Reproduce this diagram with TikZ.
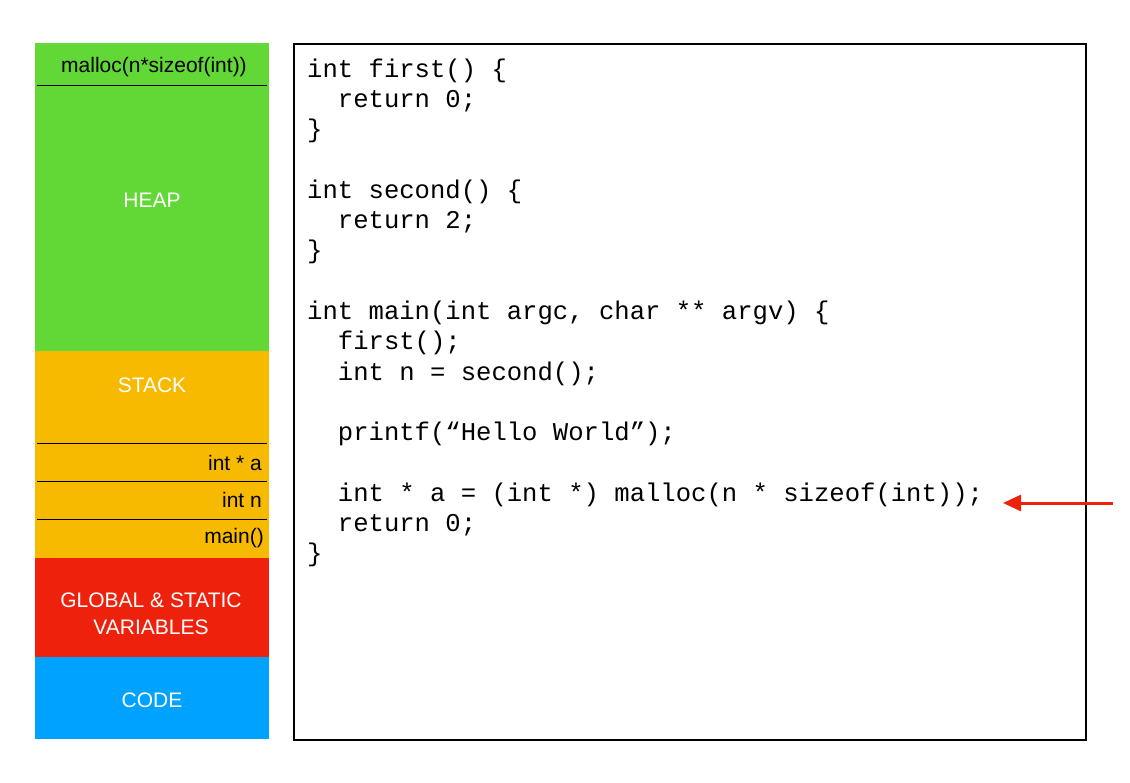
\documentclass[tikz,border=0pt]{standalone}
\usepackage{fontspec}
\setmainfont{Liberation Sans}
\newfontfamily\codefont{Liberation Mono}
\usetikzlibrary{arrows.meta}
\definecolor{heapc}{HTML}{61D836}
\definecolor{stackc}{HTML}{F8BA00}
\definecolor{globc}{HTML}{EE220C}
\definecolor{codec}{HTML}{00A2FF}
\tikzset{
 seg/.style={draw=none,minimum width=234pt,inner sep=0pt,anchor=north west},
 wlabel/.style={text=white,font=\fontsize{21}{26}\selectfont,align=center},
 blabel/.style={text=black,font=\fontsize{21}{26}\selectfont,anchor=east,inner sep=0pt},
 sepline/.style={black,line width=0.8pt},
 codeline/.style={anchor=west,inner sep=0pt,font=\codefont\fontsize{25.6}{30}\selectfont,text height=14pt,text depth=4pt}
}
\begin{document}
\begin{tikzpicture}[x=1pt,y=-1pt]
\useasboundingbox (0,0) rectangle (1130,782);
\node[seg,fill=heapc,minimum height=308pt] (heap) at (35,43) {};
\node[seg,fill=stackc,minimum height=207pt] (stack) at (35,351) {};
\node[seg,fill=globc,minimum height=99pt] (glob) at (35,558) {};
\node[seg,fill=codec,minimum height=82pt] (code) at (35,657) {};
\node[text=black,font=\fontsize{21}{26}\selectfont] (mal) at (154,67) {malloc(n*sizeof(int))};
\draw[sepline] (37,85) coordinate (l1a) -- (267,85) coordinate (l1b);
\node[wlabel] (heapt) at (152,200) {HEAP};
\node[wlabel] (stackt) at (152,385) {STACK};
\draw[sepline] (37,443) coordinate (l2a) -- (267,443) coordinate (l2b);
\node[blabel] (ia) at (262,463) {int * a};
\draw[sepline] (37,481) coordinate (l3a) -- (267,481) coordinate (l3b);
\node[blabel] (in) at (262,500) {int n};
\draw[sepline] (37,519) coordinate (l4a) -- (267,519) coordinate (l4b);
\node[blabel] (mn) at (264,538) {main()};
\node[wlabel,font=\fontsize{21}{27}\selectfont] (globt) at (151,614) {GLOBAL \& STATIC\\VARIABLES};
\node[wlabel] (codet) at (152,700) {CODE};
\node[draw,line width=1.5pt,minimum width=792pt,minimum height=696pt,anchor=north west,inner sep=0pt] (box) at (293,43) {};
\foreach \i/\t in {0/{int first() \{},1/{\ \ return 0;},2/{\}},4/{int second() \{},5/{\ \ return 2;},6/{\}},8/{int main(int argc, char ** argv) \{},9/{\ \ first();},10/{\ \ int n = second();},12/{\ \ printf(“Hello World”);},14/{\ \ int * a = (int *) malloc(n * sizeof(int));},15/{\ \ return 0;},16/{\}}}
  \node[codeline] (c\i) at (307,72+30.3*\i) {\t};
\coordinate (arrS) at (1113,503);
\coordinate (arrE) at (1003,503);
\draw[globc,line width=3pt,-{Triangle[length=18pt,width=16pt]}] (arrS) -- (arrE);
\end{tikzpicture}
\end{document}
